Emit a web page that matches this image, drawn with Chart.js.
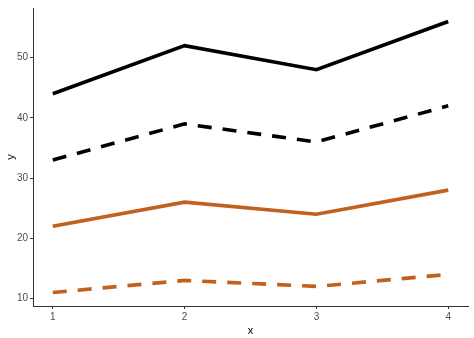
<!DOCTYPE html>
<html>
<head>
<meta charset="utf-8">
<script src="https://cdn.jsdelivr.net/npm/chart.js@4"></script>
<style>
  html, body { margin: 0; padding: 0; background: #fff; }
  #wrap { width: 474px; height: 338px; }
</style>
</head>
<body>
<div id="wrap"><canvas id="myChart" width="474" height="338"></canvas></div>
<script>
const xs = [1, 2, 3, 4]
const blackSolid = [44, 52, 48, 56]
const blackDashed = [33, 39, 36, 42]
const orangeSolid = [22, 26, 24, 28]
const orangeDashed = [11, 13, 12, 14]
const yTicks = [10, 20, 30, 40, 50]
const xTicks = [1, 2, 3, 4]

const orange = '#c2601f'

function pts(vals) {
  return xs.map((x, i) => ({ x: x, y: vals[i] }))
}

function line(vals, color, dashed) {
  return {
    data: pts(vals),
    borderColor: color,
    borderWidth: 3.6,
    borderDash: dashed ? [14, 11] : [],
    pointRadius: 0,
    tension: 0,
    fill: false
  }
}

const canvas = document.getElementById('myChart')

new Chart(canvas, {
  type: 'line',
  data: {
    datasets: [
      line(blackSolid, '#000', false),
      line(blackDashed, '#000', true),
      line(orangeSolid, orange, false),
      line(orangeDashed, orange, true)
    ]
  },
  options: {
    responsive: false,
    animation: false,
    layout: { padding: { top: 5, right: 6, left: 0, bottom: 0 } },
    plugins: { legend: { display: false }, tooltip: { enabled: false } },
    scales: {
      x: {
        type: 'linear',
        min: 0.85,
        max: 4.15,
        afterBuildTicks: (axis) => { axis.ticks = xTicks.map(v => ({ value: v })) },
        afterFit: (axis) => { axis.height = 32 },
        grid: { drawOnChartArea: false, drawTicks: true, tickLength: 3, color: '#333' },
        border: { color: '#333', width: 1 },
        ticks: { color: '#4d4d4d', font: { family: 'Arial', size: 10 }, padding: 2, maxRotation: 0 },
        title: { display: true, text: 'x', color: '#000', font: { family: 'Arial', size: 11 }, padding: { top: 0, bottom: 0 } }
      },
      y: {
        min: 8.75,
        max: 58.25,
        afterBuildTicks: (axis) => { axis.ticks = yTicks.map(v => ({ value: v })) },
        afterFit: (axis) => { axis.width = 33 },
        grid: { drawOnChartArea: false, drawTicks: true, tickLength: 3, color: '#333' },
        border: { color: '#333', width: 1 },
        ticks: { color: '#4d4d4d', font: { family: 'Arial', size: 10 }, padding: 2 },
        title: { display: true, text: 'y', color: '#000', font: { family: 'Arial', size: 11 }, padding: { top: 4, bottom: 0 } }
      }
    }
  }
})
</script>
</body>
</html>
